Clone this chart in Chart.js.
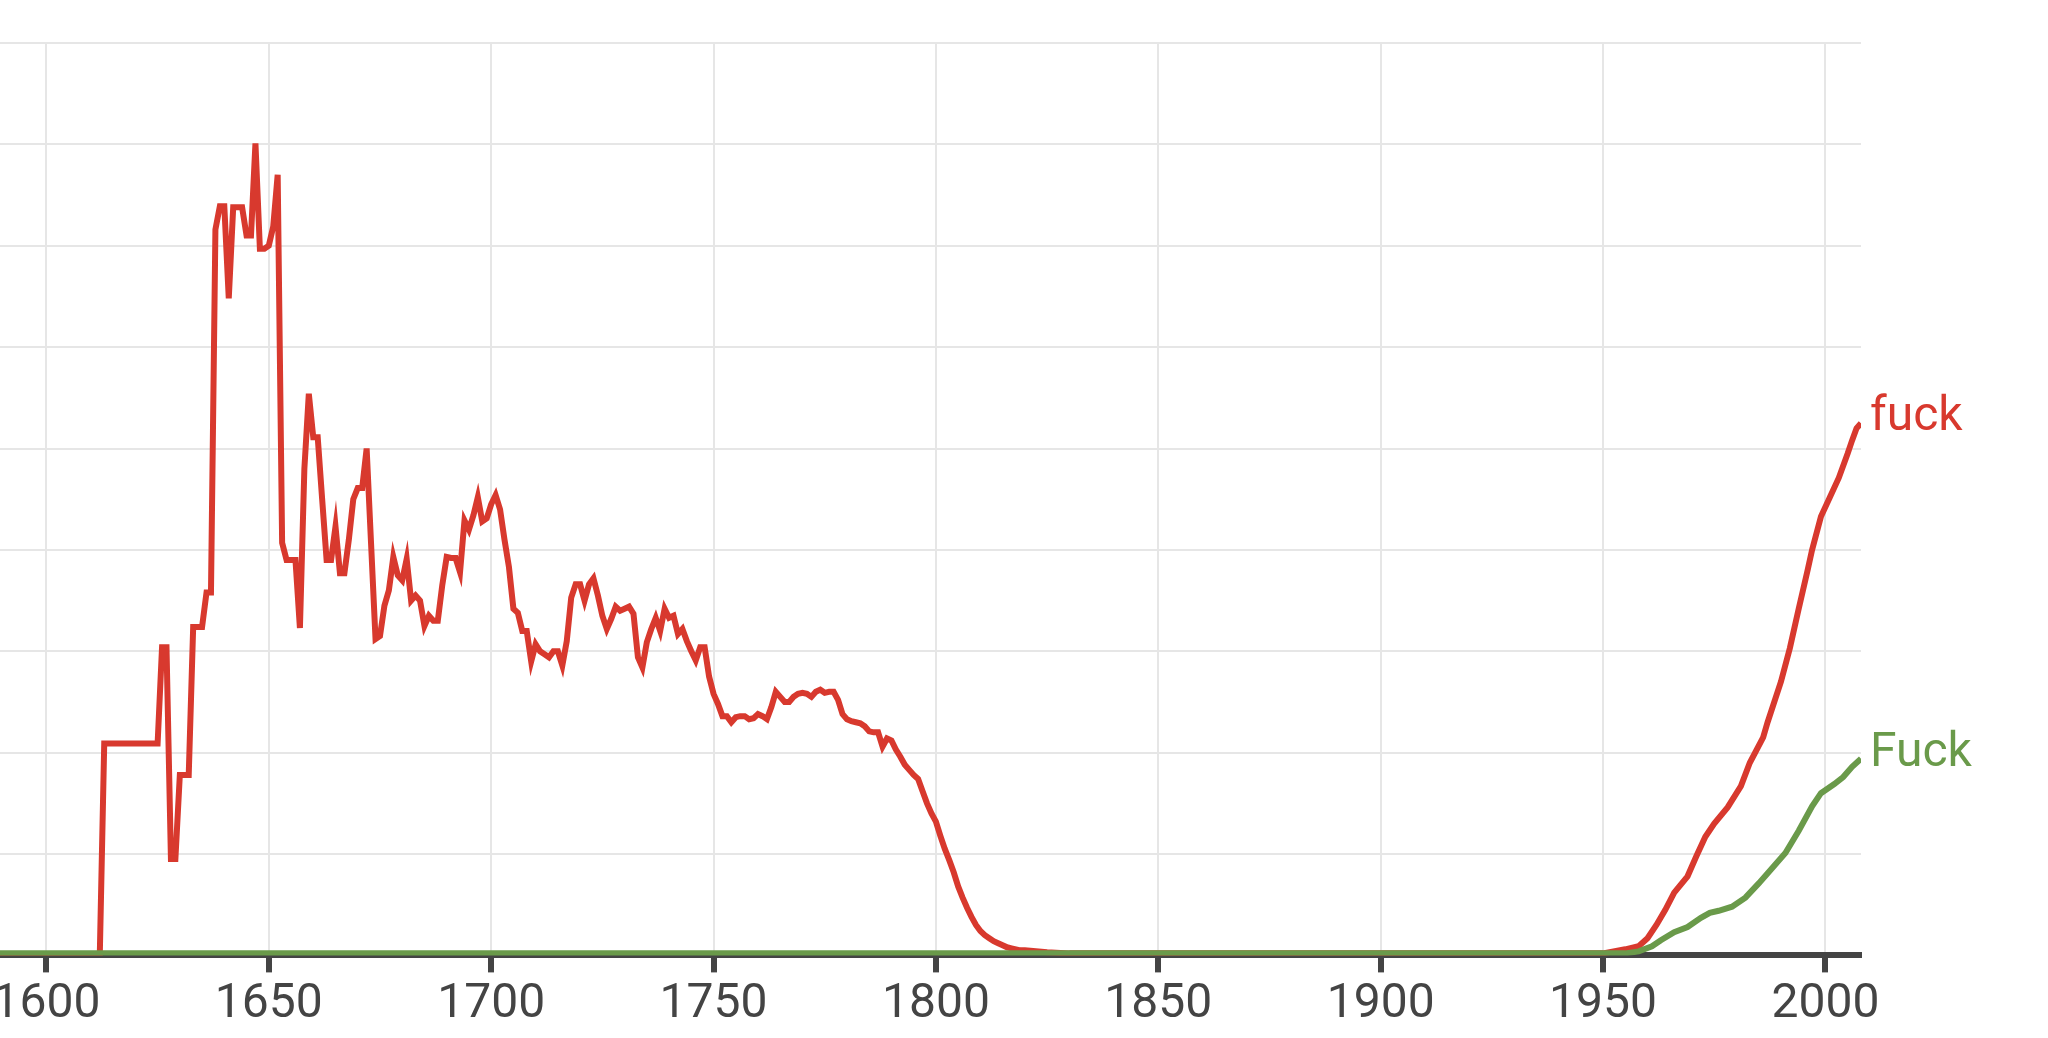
<!DOCTYPE html>
<html>
<head>
<meta charset="utf-8">
<script src="https://cdn.jsdelivr.net/npm/chart.js@4/dist/chart.umd.min.js"></script>
<style>
  html, body { margin: 0; padding: 0; background: #fff; overflow: hidden; width: 2048px; height: 1038px; }
  /* canvas is wider than the window and pushed left so the plot runs off the left edge */
  #wrap { position: absolute; left: -100px; top: 0; width: 2148px; height: 1040px; }
</style>
</head>
<body>
<div id="wrap"><canvas id="chart" width="2148" height="1040"></canvas></div>
<script>
// x axis tick labels (years)
const xTicks = [1600, 1650, 1700, 1750, 1800, 1850, 1900, 1950, 2000];

// "fuck" - early part, turning points only
const fuckEarlyYears = [1570, 1612, 1613, 1625, 1626, 1627, 1628, 1629, 1630, 1632,
                        1633, 1635, 1636, 1637, 1638, 1639, 1640, 1641, 1642, 1644,
                        1645, 1646, 1647, 1648, 1649, 1650, 1651, 1652, 1653, 1654,
                        1656, 1657, 1658, 1659, 1660, 1661, 1662, 1663, 1664, 1665,
                        1666, 1667, 1668, 1669, 1670, 1671, 1672, 1673];
const fuckEarly = [0, 0, 2.09, 2.09, 3.04, 3.04, 0.95, 0.95, 1.78, 1.78,
                   3.24, 3.24, 3.58, 3.58, 7.16, 7.39, 7.39, 6.48, 7.38, 7.38,
                   7.10, 7.10, 8.01, 6.97, 6.97, 7.0, 7.19, 7.70, 4.07, 3.90,
                   3.90, 3.23, 4.8, 5.54, 5.11, 5.11, 4.5, 3.90, 3.90, 4.23,
                   3.77, 3.77, 4.1, 4.5, 4.61, 4.61, 5.0, 4.06];

// "fuck" - one value per year from 1674 to 1820
const fuckYearlyStart = 1674;
const fuckYearly = [
  3.12, 3.15, 3.45, 3.6, 3.93, 3.75, 3.7, 3.91, 3.5, 3.55,      // 1674-1683
  3.5, 3.25, 3.35, 3.3, 3.3, 3.65, 3.93, 3.92, 3.92, 3.78,      // 1684-1693
  4.29, 4.2, 4.34, 4.52, 4.28, 4.31, 4.45, 4.54, 4.4, 4.1,      // 1694-1703
  3.83, 3.42, 3.38, 3.2, 3.2, 2.9, 3.07, 3.0, 2.97, 2.94,       // 1704-1713
  3.0, 3.0, 2.86, 3.1, 3.53, 3.66, 3.66, 3.5, 3.66, 3.72,       // 1714-1723
  3.55, 3.35, 3.22, 3.32, 3.44, 3.4, 3.42, 3.44, 3.37, 2.94,    // 1724-1733
  2.84, 3.09, 3.22, 3.33, 3.2, 3.42, 3.33, 3.35, 3.17, 3.22,    // 1734-1743
  3.1, 3.0, 2.91, 3.04, 3.04, 2.75, 2.58, 2.48, 2.36, 2.36,     // 1744-1753
  2.3, 2.35, 2.36, 2.36, 2.33, 2.34, 2.38, 2.36, 2.33, 2.45,    // 1754-1763
  2.6, 2.55, 2.5, 2.5, 2.55, 2.58, 2.59, 2.58, 2.55, 2.6,       // 1764-1773
  2.62, 2.59, 2.6, 2.6, 2.52, 2.38, 2.33, 2.31, 2.3, 2.29,      // 1774-1783
  2.26, 2.21, 2.2, 2.2, 2.06, 2.14, 2.12, 2.03, 1.96, 1.88,     // 1784-1793
  1.83, 1.78, 1.74, 1.62, 1.5, 1.4, 1.32, 1.18, 1.05, 0.94,     // 1794-1803
  0.82, 0.68, 0.57, 0.47, 0.38, 0.3, 0.24, 0.2, 0.17, 0.14,     // 1804-1813
  0.12, 0.1, 0.08, 0.07, 0.06, 0.05, 0.05                       // 1814-1820
];

// "fuck" - late part, turning points only
const fuckLateYears = [1825, 1830, 1950, 1955, 1958, 1960, 1962, 1964, 1966, 1969,
                       1971, 1973, 1975, 1978, 1981, 1983, 1986, 1987, 1990, 1992,
                       1994, 1996, 1997, 1999, 2001, 2003, 2005, 2006, 2007, 2008];
const fuckLate = [0.03, 0.02, 0.02, 0.06, 0.09, 0.17, 0.3, 0.45, 0.62, 0.78,
                  0.98, 1.17, 1.3, 1.46, 1.67, 1.9, 2.15, 2.3, 2.7, 3.03,
                  3.42, 3.8, 4.0, 4.33, 4.52, 4.71, 4.95, 5.08, 5.2, 5.25];

// "Fuck"
const FuckYears = [1570, 1950, 1955, 1958, 1961, 1963, 1966, 1969, 1972, 1974,
                   1976, 1979, 1982, 1985, 1988, 1991, 1994, 1997, 1999, 2002,
                   2004, 2006, 2008];
const FuckValues = [0.02, 0.02, 0.02, 0.04, 0.09, 0.15, 0.23, 0.28, 0.37, 0.42,
                    0.44, 0.48, 0.57, 0.71, 0.86, 1.01, 1.23, 1.47, 1.6, 1.69,
                    1.76, 1.86, 1.94];

const RED = "#d8392e";
const GREEN = "#6a9a4a";

function pts(years, values) {
  return years.map((yr, i) => ({ x: yr, y: values[i] }));
}

const fuckPoints = pts(fuckEarlyYears, fuckEarly)
  .concat(fuckYearly.map((v, i) => ({ x: fuckYearlyStart + i, y: v })))
  .concat(pts(fuckLateYears, fuckLate));
const FuckPoints = pts(FuckYears, FuckValues);

// word labels at the right end of each line
const endLabels = {
  id: "endLabels",
  afterDatasetsDraw(chart) {
    const ctx = chart.ctx;
    chart.data.datasets.forEach((ds, i) => {
      const meta = chart.getDatasetMeta(i);
      const last = meta.data[meta.data.length - 1];
      ctx.save();
      ctx.font = "48px Roboto";
      ctx.fillStyle = ds.borderColor;
      ctx.textBaseline = "alphabetic";
      ctx.textAlign = "left";
      ctx.fillText(ds.label, last.x + 9, last.y + 7);
      ctx.restore();
    });
  }
};

function draw() {
  new Chart(document.getElementById("chart"), {
    type: "line",
    data: {
      datasets: [
        { label: "Fuck", data: FuckPoints, borderColor: GREEN, order: 0 },
        { label: "fuck", data: fuckPoints, borderColor: RED, order: 1 }
      ]
    },
    options: {
      responsive: false,
      animation: false,
      devicePixelRatio: 1,
      layout: { padding: { top: 43, right: 187, bottom: 2, left: 0 } },
      plugins: { legend: { display: false }, tooltip: { enabled: false } },
      elements: {
        point: { radius: 0 },
        line: { borderWidth: 6, tension: 0, fill: false }
      },
      scales: {
        x: {
          type: "linear",
          min: 1567.08,
          max: 2008,
          afterBuildTicks: s => { s.ticks = xTicks.map(v => ({ value: v })); },
          ticks: {
            font: { family: "Roboto", size: 48 },
            color: "#444",
            padding: 4,
            maxRotation: 0,
            autoSkip: false,
            callback: v => String(v)
          },
          grid: { color: "#e6e6e6", lineWidth: 2, tickColor: "#444", tickWidth: 6, tickLength: 17 },
          border: { display: true, color: "#444", width: 6 }
        },
        y: {
          min: 0,
          max: 9,
          ticks: { display: false, stepSize: 1 },
          grid: { color: "#e6e6e6", lineWidth: 2, drawTicks: false },
          border: { display: false }
        }
      }
    },
    plugins: [endLabels]
  });
}

document.fonts.load("48px Roboto").then(draw, draw);
</script>
</body>
</html>
